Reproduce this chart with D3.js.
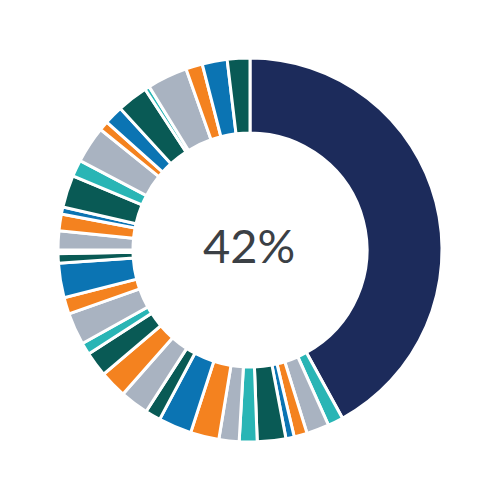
<!DOCTYPE html>
<html>
<head>
<meta charset="utf-8">
<script src="https://cdn.jsdelivr.net/npm/d3@7"></script>
<style>
  html, body { margin: 0; padding: 0; background: #fff; }
  #chart { width: 500px; height: 500px; }
</style>
</head>
<body>
<div id="chart"></div>
<script>
// Donut with one highlighted share and many small segments
// Values in percent, clockwise from 12 o'clock
var categories = [
    "main", "s1", "s2", "s3", "s4", "s5", "s6", "s7", "s8", "s9", "s10",
    "s11", "s12", "s13", "s14", "s15", "s16", "s17", "s18", "s19", "s20",
    "s21", "s22", "s23", "s24", "s25", "s26", "s27", "s28", "s29", "s30",
    "s31", "s32", "s33"
];
var values = [
    42.0, 1.3, 1.9, 1.1, 0.7, 2.4, 1.5, 1.7, 2.4, 2.8, 1.3,
    2.4, 2.3, 2.1, 1.0, 2.7, 1.4, 2.9, 0.8, 0.3, 1.6,
    1.4, 0.6, 2.7, 1.4, 3.1, 0.8, 1.6, 2.6, 0.4, 3.4,
    1.4, 2.1, 1.9
];
var colorKeys = [
    "navy", "teal", "gray", "orange", "blue", "green", "teal", "gray", "orange", "blue", "green",
    "gray", "orange", "green", "teal", "gray", "orange", "blue", "green", "blank", "gray",
    "orange", "blue", "green", "teal", "gray", "orange", "blue", "green", "teal", "gray",
    "orange", "blue", "green"
];
var centerLabel = "42%";

var palette = {
    navy: "#1c2b5b",
    teal: "#29b5b5",
    gray: "#a9b3c1",
    orange: "#f4821f",
    blue: "#0b74b3",
    green: "#095a55",
    blank: "#ffffff"
};

var totalW = 500, totalH = 500;
var outerR = 192, innerR = 117;

var svg = d3.select("#chart").append("svg")
    .attr("width", totalW)
    .attr("height", totalH);

var g = svg.append("g")
    .attr("transform", "translate(250,250)");

var rows = categories.map(function(c, i) {
    return { name: c, value: values[i], color: palette[colorKeys[i]] };
});

var pie = d3.pie()
    .sort(null)
    .value(function(d) { return d.value; });

var arc = d3.arc()
    .innerRadius(innerR)
    .outerRadius(outerR);

g.selectAll("path.slice")
    .data(pie(rows))
    .enter().append("path")
    .attr("class", "slice")
    .attr("d", arc)
    .attr("fill", function(d) { return d.data.color; })
    .attr("stroke", "#fff")
    .attr("stroke-width", 3)
    .attr("stroke-linejoin", "miter");

// --- Center label ---
g.append("text")
    .attr("x", -1)
    .attr("y", 13)
    .attr("text-anchor", "middle")
    .style("font-family", "Lato, 'Open Sans', sans-serif")
    .style("font-size", "47px")
    .style("fill", "#3b4045")
    .text(centerLabel);
</script>
</body>
</html>
